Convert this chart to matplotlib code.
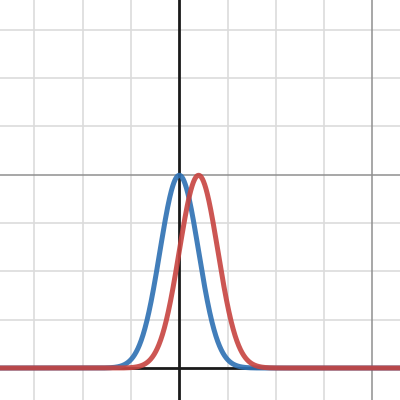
import numpy as np
import matplotlib
matplotlib.use("Agg")
import matplotlib.pyplot as plt

# Normal distribution curves (parameters)
curve_names = ["blue", "red"]
means = [0.0, 0.2]
sigmas = [0.2, 0.2]
colors = ["#2d70b3", "#c74440"]

# view window
x_min, x_max = -1.856, 2.285
y_min, y_max = -0.331, 3.809
minor_step = 0.5
major_step = 2.0

fig = plt.figure(figsize=(4, 4), dpi=100)
ax = fig.add_axes([0, 0, 1, 1])
ax.set_xlim(x_min, x_max)
ax.set_ylim(y_min, y_max)
for s in ax.spines.values():
    s.set_visible(False)
ax.set_xticks([])
ax.set_yticks([])

# grid
minor_x = np.arange(np.ceil(x_min / minor_step), np.floor(x_max / minor_step) + 1) * minor_step
minor_y = np.arange(np.ceil(y_min / minor_step), np.floor(y_max / minor_step) + 1) * minor_step
for v in minor_x:
    is_major = abs(v / major_step - round(v / major_step)) < 1e-9
    if abs(v) < 1e-9:
        continue
    ax.axvline(v, color="#8f8f8f" if is_major else "#dcdcdc", lw=1.1 if is_major else 1.2, zorder=1 if is_major else 0)
for v in minor_y:
    is_major = abs(v / major_step - round(v / major_step)) < 1e-9
    if abs(v) < 1e-9:
        continue
    ax.axhline(v, color="#8f8f8f" if is_major else "#dcdcdc", lw=1.1 if is_major else 1.2, zorder=1 if is_major else 0)

# axes
ax.axhline(0, color="#1a1a1a", lw=2.0, zorder=2)
ax.axvline(0, color="#1a1a1a", lw=2.0, zorder=2)

x = np.linspace(x_min, x_max, 2000)
for name, mu, sd, c in zip(curve_names, means, sigmas, colors):
    y = np.exp(-((x - mu) ** 2) / (2 * sd ** 2)) / (sd * np.sqrt(2 * np.pi))
    ax.plot(x, y, color=c, lw=3.6, alpha=0.9, zorder=3, solid_capstyle="round")

fig.savefig("out.png", dpi=100)
